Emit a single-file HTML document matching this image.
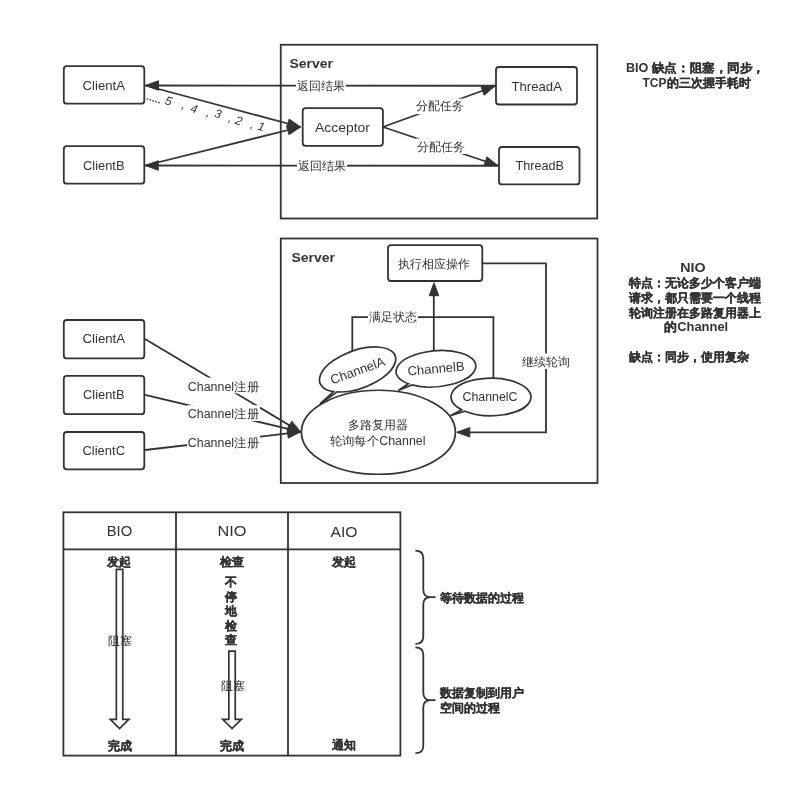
<!DOCTYPE html>
<html><head><meta charset="utf-8"><style>
html,body{margin:0;padding:0;background:#fff;width:800px;height:793px;overflow:hidden}
svg{display:block;will-change:transform;font-family:"Liberation Sans",sans-serif}
</style></head><body>
<svg width="800" height="793" viewBox="0 0 800 793">
<rect x="280.75" y="44.75" width="316.5" height="173.75" fill="none" stroke="#333333" stroke-width="1.8"/>
<text x="289.5" y="68" font-size="13" font-weight="bold" text-anchor="start" fill="#333" textLength="43.5" lengthAdjust="spacingAndGlyphs" >Server</text>
<polyline points="496,85.75 145.5,85.5" fill="none" stroke="#333333" stroke-width="1.8" stroke-linejoin="miter"/>
<polygon points="145.50,85.50 158.50,80.75 158.50,90.25" fill="#333333" stroke="#333333" stroke-width="1" stroke-linejoin="miter"/>
<polyline points="145.5,85.5 300.5,127" fill="none" stroke="#333333" stroke-width="1.8" stroke-linejoin="miter"/>
<polygon points="300.50,127.00 286.71,128.23 289.17,119.05" fill="#333333" stroke="#333333" stroke-width="1" stroke-linejoin="miter"/>
<polyline points="145.25,165.5 300.5,127" fill="none" stroke="#333333" stroke-width="1.8" stroke-linejoin="miter"/>
<polygon points="300.50,127.00 289.03,134.74 286.74,125.52" fill="#333333" stroke="#333333" stroke-width="1" stroke-linejoin="miter"/>
<polyline points="499,165.75 145.25,165.5" fill="none" stroke="#333333" stroke-width="1.8" stroke-linejoin="miter"/>
<polygon points="145.25,165.50 158.25,160.75 158.25,170.25" fill="#333333" stroke="#333333" stroke-width="1" stroke-linejoin="miter"/>
<polyline points="383,127 494.75,86.25" fill="none" stroke="#333333" stroke-width="1.8" stroke-linejoin="miter"/>
<polygon points="494.75,86.25 484.16,95.17 480.91,86.24" fill="#333333" stroke="#333333" stroke-width="1" stroke-linejoin="miter"/>
<polyline points="383,127 497.75,165.5" fill="none" stroke="#333333" stroke-width="1.8" stroke-linejoin="miter"/>
<polygon points="497.75,165.50 483.91,165.87 486.94,156.86" fill="#333333" stroke="#333333" stroke-width="1" stroke-linejoin="miter"/>
<polyline points="146.6,98.75 160.6,103.1" fill="none" stroke="#333333" stroke-width="1.3" stroke-dasharray="1.6,1.4" stroke-linejoin="miter"/>
<rect x="63.8" y="66.2" width="80.5" height="37.5" rx="3" fill="#fff" stroke="#333333" stroke-width="1.8"/>
<text x="82.5" y="89.8" font-size="13.6" font-weight="normal" text-anchor="start" fill="#333" textLength="42.5" lengthAdjust="spacingAndGlyphs" >ClientA</text>
<rect x="63.8" y="146.2" width="80.5" height="37.5" rx="3" fill="#fff" stroke="#333333" stroke-width="1.8"/>
<text x="83" y="169.8" font-size="13.6" font-weight="normal" text-anchor="start" fill="#333" textLength="41.5" lengthAdjust="spacingAndGlyphs" >ClientB</text>
<rect x="302.7" y="108.2" width="80.2" height="37.6" rx="3" fill="#fff" stroke="#333333" stroke-width="1.8"/>
<text x="315" y="131.6" font-size="13.6" font-weight="normal" text-anchor="start" fill="#333" textLength="55" lengthAdjust="spacingAndGlyphs" >Acceptor</text>
<rect x="496" y="67" width="81" height="37.5" rx="3" fill="#fff" stroke="#333333" stroke-width="1.8"/>
<text x="511.5" y="90.7" font-size="13.6" font-weight="normal" text-anchor="start" fill="#333" textLength="50.4" lengthAdjust="spacingAndGlyphs" >ThreadA</text>
<rect x="499" y="147" width="80.5" height="37.4" rx="3" fill="#fff" stroke="#333333" stroke-width="1.8"/>
<text x="515.5" y="169.8" font-size="13.6" font-weight="normal" text-anchor="start" fill="#333" textLength="48.4" lengthAdjust="spacingAndGlyphs" >ThreadB</text>
<rect x="296" y="79" width="50" height="13" fill="#fff"/>
<text x="320.75" y="89.9" font-size="12" font-weight="normal" text-anchor="middle" fill="#333" >返回结果</text>
<rect x="297" y="159" width="50" height="13" fill="#fff"/>
<text x="321.75" y="169.9" font-size="12" font-weight="normal" text-anchor="middle" fill="#333" >返回结果</text>
<rect x="415" y="98.7" width="50" height="15.399999999999991" fill="#fff"/>
<text x="440" y="110" font-size="12" font-weight="normal" text-anchor="middle" fill="#333" >分配任务</text>
<rect x="416" y="138.5" width="50" height="15.5" fill="#fff"/>
<text x="441" y="150.5" font-size="12" font-weight="normal" text-anchor="middle" fill="#333" >分配任务</text>
<text x="0" y="0" font-size="12" font-style="italic" text-anchor="middle" fill="#333" transform="translate(168.7,100.75) rotate(15.7) translate(0,4.3)">5</text>
<text x="0" y="0" font-size="12" font-style="italic" text-anchor="middle" fill="#333" transform="translate(184,104.5) rotate(15.7) translate(0,4.3)">,</text>
<text x="0" y="0" font-size="12" font-style="italic" text-anchor="middle" fill="#333" transform="translate(194.25,108.4) rotate(15.7) translate(0,4.3)">4</text>
<text x="0" y="0" font-size="12" font-style="italic" text-anchor="middle" fill="#333" transform="translate(208.5,112.2) rotate(15.7) translate(0,4.3)">,</text>
<text x="0" y="0" font-size="12" font-style="italic" text-anchor="middle" fill="#333" transform="translate(218.1,113.6) rotate(15.7) translate(0,4.3)">3</text>
<text x="0" y="0" font-size="12" font-style="italic" text-anchor="middle" fill="#333" transform="translate(230.5,117.9) rotate(15.7) translate(0,4.3)">,</text>
<text x="0" y="0" font-size="12" font-style="italic" text-anchor="middle" fill="#333" transform="translate(238.9,120.6) rotate(15.7) translate(0,4.3)">2</text>
<text x="0" y="0" font-size="12" font-style="italic" text-anchor="middle" fill="#333" transform="translate(252.5,124.2) rotate(15.7) translate(0,4.3)">,</text>
<text x="0" y="0" font-size="12" font-style="italic" text-anchor="middle" fill="#333" transform="translate(261.5,126.25) rotate(15.7) translate(0,4.3)">1</text>
<text x="626" y="71.5" font-size="12" font-weight="bold" text-anchor="start" fill="#333" stroke="#333" stroke-width="0.28" textLength="139" lengthAdjust="spacingAndGlyphs" ><tspan stroke="none">BIO </tspan>缺点：阻塞，同步，</text>
<text x="696.5" y="86.5" font-size="12" font-weight="bold" text-anchor="middle" fill="#333" stroke="#333" stroke-width="0.28" ><tspan stroke="none">TCP</tspan>的三次握手耗时</text>
<rect x="280.8" y="238.5" width="316.7" height="244.5" fill="none" stroke="#333333" stroke-width="1.8"/>
<text x="291.5" y="262" font-size="13" font-weight="bold" text-anchor="start" fill="#333" textLength="43.5" lengthAdjust="spacingAndGlyphs" >Server</text>
<polyline points="482.3,263.3 546,263.3 546,432.3 457,432.3" fill="none" stroke="#333333" stroke-width="1.8" stroke-linejoin="miter"/>
<polygon points="456.80,432.30 469.80,427.55 469.80,437.05" fill="#333333" stroke="#333333" stroke-width="1" stroke-linejoin="miter"/>
<polyline points="352.3,352 352.3,317.2 493.4,317.2 493.4,380" fill="none" stroke="#333333" stroke-width="1.8" stroke-linejoin="miter"/>
<polyline points="433.8,352 433.8,290" fill="none" stroke="#333333" stroke-width="1.8" stroke-linejoin="miter"/>
<polygon points="434.00,282.70 438.75,295.70 429.25,295.70" fill="#333333" stroke="#333333" stroke-width="1" stroke-linejoin="miter"/>
<rect x="388" y="245.2" width="94.3" height="35.8" rx="3" fill="#fff" stroke="#333333" stroke-width="1.8"/>
<text x="434.3" y="268" font-size="12" font-weight="normal" text-anchor="middle" fill="#333" >执行相应操作</text>
<rect x="368" y="310.5" width="50" height="13.5" fill="#fff"/>
<text x="393" y="321.2" font-size="12" font-weight="normal" text-anchor="middle" fill="#333" >满足状态</text>
<rect x="521" y="353.5" width="50" height="15.5" fill="#fff"/>
<text x="546" y="366.3" font-size="12" font-weight="normal" text-anchor="middle" fill="#333" >继续轮询</text>
<ellipse cx="378.4" cy="432.25" rx="77" ry="42" fill="#fff" stroke="#333333" stroke-width="1.7"/>
<path d="M333.52,391.54 A40,19 -20 1 1 337.10,391.91 L320,404 Z" fill="#fff" stroke="#333333" stroke-width="1.7" stroke-linejoin="miter"/>
<path d="M408.39,383.75 A40,18 -5 1 1 411.94,384.87 L398.25,390.5 Z" fill="#fff" stroke="#333333" stroke-width="1.7" stroke-linejoin="miter"/>
<path d="M461.70,409.73 A40,18.7 0 1 1 465.02,411.22 L450.25,415.75 Z" fill="#fff" stroke="#333333" stroke-width="1.7" stroke-linejoin="miter"/>
<text x="0" y="0" font-size="13" fill="#333" text-anchor="middle" transform="translate(357.6,370.5) rotate(-20) translate(0,4.5)">ChannelA</text>
<text x="0" y="0" font-size="13" fill="#333" text-anchor="middle" transform="translate(436,368.5) rotate(-5) translate(0,4.5)">ChannelB</text>
<text x="490" y="401.4" font-size="13" font-weight="normal" text-anchor="middle" fill="#333" textLength="55" lengthAdjust="spacingAndGlyphs" >ChannelC</text>
<text x="378.4" y="429" font-size="12" font-weight="normal" text-anchor="middle" fill="#333" >多路复用器</text>
<text x="377.5" y="445" font-size="12" font-weight="normal" text-anchor="middle" fill="#333" textLength="96" lengthAdjust="spacingAndGlyphs" >轮询每个Channel</text>
<rect x="63.8" y="320" width="80.5" height="38.4" rx="3" fill="#fff" stroke="#333333" stroke-width="1.8"/>
<text x="82.5" y="343.4" font-size="13.6" font-weight="normal" text-anchor="start" fill="#333" textLength="42.5" lengthAdjust="spacingAndGlyphs" >ClientA</text>
<rect x="63.8" y="375.8" width="80.5" height="38.4" rx="3" fill="#fff" stroke="#333333" stroke-width="1.8"/>
<text x="83" y="399.4" font-size="13.6" font-weight="normal" text-anchor="start" fill="#333" textLength="41.5" lengthAdjust="spacingAndGlyphs" >ClientB</text>
<rect x="63.8" y="432" width="80.5" height="37.3" rx="3" fill="#fff" stroke="#333333" stroke-width="1.8"/>
<text x="82.5" y="455.4" font-size="13.6" font-weight="normal" text-anchor="start" fill="#333" textLength="42.5" lengthAdjust="spacingAndGlyphs" >ClientC</text>
<polyline points="145,339.1 300.6,431.9" fill="none" stroke="#333333" stroke-width="1.8" stroke-linejoin="miter"/>
<polyline points="145,394.8 300.6,431.9" fill="none" stroke="#333333" stroke-width="1.8" stroke-linejoin="miter"/>
<polyline points="145,450 300.6,431.9" fill="none" stroke="#333333" stroke-width="1.8" stroke-linejoin="miter"/>
<polygon points="300.60,431.90 287.00,429.32 291.87,421.16" fill="#333333" stroke="#333333" stroke-width="1" stroke-linejoin="miter"/>
<polygon points="300.60,431.90 286.85,433.51 289.06,424.26" fill="#333333" stroke="#333333" stroke-width="1" stroke-linejoin="miter"/>
<polygon points="300.60,431.90 288.24,438.12 287.14,428.68" fill="#333333" stroke="#333333" stroke-width="1" stroke-linejoin="miter"/>
<rect x="187" y="377.6" width="73" height="15.800000000000011" fill="#fff"/>
<text x="223.4" y="390.8" font-size="12" font-weight="normal" text-anchor="middle" fill="#333" textLength="71.2" lengthAdjust="spacingAndGlyphs" >Channel注册</text>
<rect x="187" y="405.2" width="73" height="15.800000000000011" fill="#fff"/>
<text x="223.4" y="418.4" font-size="12" font-weight="normal" text-anchor="middle" fill="#333" textLength="71.2" lengthAdjust="spacingAndGlyphs" >Channel注册</text>
<rect x="187" y="433.9" width="73" height="15.800000000000011" fill="#fff"/>
<text x="223.4" y="447.09999999999997" font-size="12" font-weight="normal" text-anchor="middle" fill="#333" textLength="71.2" lengthAdjust="spacingAndGlyphs" >Channel注册</text>
<text x="693" y="271.9" font-size="12" font-weight="bold" text-anchor="middle" fill="#333" textLength="25.4" lengthAdjust="spacingAndGlyphs" >NIO</text>
<text x="695.3" y="287.3" font-size="12" font-weight="bold" text-anchor="middle" fill="#333" stroke="#333" stroke-width="0.28" >特点：无论多少个客户端</text>
<text x="695.3" y="302" font-size="12" font-weight="bold" text-anchor="middle" fill="#333" stroke="#333" stroke-width="0.28" >请求，都只需要一个线程</text>
<text x="695.3" y="316.7" font-size="12" font-weight="bold" text-anchor="middle" fill="#333" stroke="#333" stroke-width="0.28" >轮询注册在多路复用器上</text>
<text x="696.2" y="331.4" font-size="12" font-weight="bold" text-anchor="middle" fill="#333" stroke="#333" stroke-width="0.28" textLength="64" lengthAdjust="spacingAndGlyphs" >的<tspan stroke="none">Channel</tspan></text>
<text x="629" y="360.6" font-size="12" font-weight="bold" text-anchor="start" fill="#333" stroke="#333" stroke-width="0.28" >缺点：同步，使用复杂</text>
<rect x="63.4" y="512.3" width="337" height="243.3" fill="none" stroke="#333333" stroke-width="1.8"/>
<polyline points="63.4,549.4 400.4,549.4" fill="none" stroke="#333333" stroke-width="1.8" stroke-linejoin="miter"/>
<polyline points="176,512.3 176,755.6" fill="none" stroke="#333333" stroke-width="1.8" stroke-linejoin="miter"/>
<polyline points="288,512.3 288,755.6" fill="none" stroke="#333333" stroke-width="1.8" stroke-linejoin="miter"/>
<text x="119.45" y="536.4" font-size="15" font-weight="normal" text-anchor="middle" fill="#333" textLength="25.5" lengthAdjust="spacingAndGlyphs" >BIO</text>
<text x="231.95" y="536.4" font-size="15" font-weight="normal" text-anchor="middle" fill="#333" textLength="29" lengthAdjust="spacingAndGlyphs" >NIO</text>
<text x="343.95" y="536.9" font-size="15" font-weight="normal" text-anchor="middle" fill="#333" textLength="27" lengthAdjust="spacingAndGlyphs" >AIO</text>
<text x="119.2" y="566" font-size="12" font-weight="bold" text-anchor="middle" fill="#333" stroke="#333" stroke-width="0.28" >发起</text>
<text x="232" y="566" font-size="12" font-weight="bold" text-anchor="middle" fill="#333" stroke="#333" stroke-width="0.28" >检查</text>
<text x="343.9" y="565.6" font-size="12" font-weight="bold" text-anchor="middle" fill="#333" stroke="#333" stroke-width="0.28" >发起</text>
<text x="231.3" y="586.0" font-size="12" font-weight="bold" text-anchor="middle" fill="#333" stroke="#333" stroke-width="0.28" >不</text>
<text x="231.3" y="600.5" font-size="12" font-weight="bold" text-anchor="middle" fill="#333" stroke="#333" stroke-width="0.28" >停</text>
<text x="231.3" y="615.0" font-size="12" font-weight="bold" text-anchor="middle" fill="#333" stroke="#333" stroke-width="0.28" >地</text>
<text x="231.3" y="629.5" font-size="12" font-weight="bold" text-anchor="middle" fill="#333" stroke="#333" stroke-width="0.28" >检</text>
<text x="231.3" y="644.0" font-size="12" font-weight="bold" text-anchor="middle" fill="#333" stroke="#333" stroke-width="0.28" >查</text>
<path d="M116.35,569.3 L122.75,569.3 L122.75,719.3 L128.85,719.3 L119.55,728.6 L110.25,719.3 L116.35,719.3 Z" fill="none" stroke="#333333" stroke-width="1.7" stroke-linejoin="miter"/>
<path d="M228.85000000000002,651.2 L235.25,651.2 L235.25,719.3 L241.35000000000002,719.3 L232.05,728.6 L222.75,719.3 L228.85000000000002,719.3 Z" fill="none" stroke="#333333" stroke-width="1.7" stroke-linejoin="miter"/>
<text x="119.7" y="645.3" font-size="12" font-weight="normal" text-anchor="middle" fill="#2a2a2a" >阻塞</text>
<text x="232.5" y="689.6" font-size="12" font-weight="normal" text-anchor="middle" fill="#2a2a2a" >阻塞</text>
<text x="119.5" y="749.7" font-size="12" font-weight="bold" text-anchor="middle" fill="#333" stroke="#333" stroke-width="0.28" >完成</text>
<text x="232" y="749.5" font-size="12" font-weight="bold" text-anchor="middle" fill="#333" stroke="#333" stroke-width="0.28" >完成</text>
<text x="343.5" y="749.3" font-size="12" font-weight="bold" text-anchor="middle" fill="#333" stroke="#333" stroke-width="0.28" >通知</text>
<path d="M415.4,550.6 Q423.3,550.6 423.3,558.1 L423.3,589.7 Q423.3,597.2 430.8,597.2 L435.5,597.2 M430.8,597.2 Q423.3,597.2 423.3,604.7 L423.3,636.4 Q423.3,643.9 415.4,643.9" fill="none" stroke="#333333" stroke-width="1.8"/>
<path d="M415.4,647.4 Q423.3,647.4 423.3,654.9 L423.3,692.7 Q423.3,700.2 430.8,700.2 L435.5,700.2 M430.8,700.2 Q423.3,700.2 423.3,707.7 L423.3,745.7 Q423.3,753.2 415.4,753.2" fill="none" stroke="#333333" stroke-width="1.8"/>
<text x="439.5" y="601.6" font-size="12" font-weight="bold" text-anchor="start" fill="#333" stroke="#333" stroke-width="0.28" >等待数据的过程</text>
<text x="439.5" y="696.8" font-size="12" font-weight="bold" text-anchor="start" fill="#333" stroke="#333" stroke-width="0.28" >数据复制到用户</text>
<text x="439.5" y="711.8" font-size="12" font-weight="bold" text-anchor="start" fill="#333" stroke="#333" stroke-width="0.28" >空间的过程</text>
</svg></body></html>
